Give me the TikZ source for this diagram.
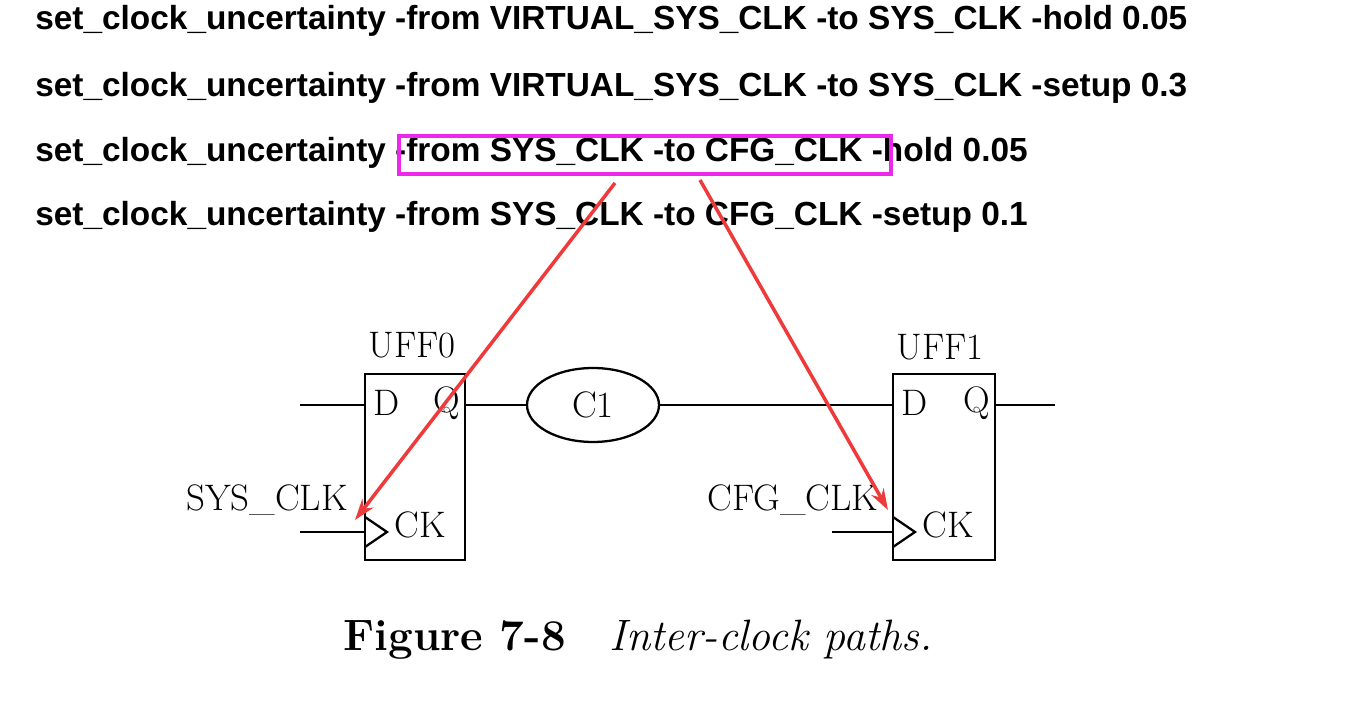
\documentclass[tikz,border=0pt]{standalone}
\usepackage{fontspec}
\newfontfamily\sans{Liberation Sans}
\usetikzlibrary{shapes.geometric,arrows.meta}
\begin{document}
\begin{tikzpicture}[x=0.02cm,y=-0.02cm,
  cmd/.style={anchor=base west,inner sep=0,font=\sans\bfseries\fontsize{19}{22}\selectfont},
  lbl/.style={inner sep=0,font=\fontsize{21}{24}\selectfont},
  wire/.style={line width=1.3pt},
  red/.style={draw={rgb,255:red,238;green,58;blue,58},line width=2pt,-{Stealth[length=12pt,width=8pt]}}]
\useasboundingbox (0,0) rectangle (1353,722);
\node[cmd] (l1) at (35,30) {set\_clock\_uncertainty -from VIRTUAL\_SYS\_CLK -to SYS\_CLK -hold 0.05};
\node[cmd] (l2) at (35,97) {set\_clock\_uncertainty -from VIRTUAL\_SYS\_CLK -to SYS\_CLK -setup 0.3};
\node[cmd] (l3) at (35,162) {set\_clock\_uncertainty -from SYS\_CLK -to CFG\_CLK -hold 0.05};
\node[cmd] (l4) at (35,226) {set\_clock\_uncertainty -from SYS\_CLK -to CFG\_CLK -setup 0.1};
\draw[draw={rgb,255:red,235;green,40;blue,235},line width=2pt] (399,136) rectangle (891,174);
% UFF0
\draw[wire] (365,374) rectangle (465,560);
\node[lbl] (u0) at (412,345) {UFF0};
\node[lbl] (d0) at (387,403) {D};
\node[lbl] (q0) at (447,403) {Q};
\node[lbl] (ck0) at (420,525) {CK};
\draw[wire] (365,517) -- (387,532) -- (365,547);
\coordinate (i0) at (300,405);
\coordinate (c0) at (300,532);
\draw[wire] (i0) -- (365,405);
\draw[wire] (c0) -- (365,532);
\node[lbl,anchor=base] (s0) at (267,511) {SYS\_CLK};
\node[draw,wire,ellipse,minimum width=2.64cm,minimum height=1.48cm,inner sep=0,lbl] (C1) at (593,405) {C1};
\draw[wire] (465,405) -- (C1.west);
\draw[wire] (C1.east) -- (893,405);
% UFF1
\draw[wire] (893,374) rectangle (995,560);
\node[lbl] (u1) at (940,347) {UFF1};
\node[lbl] (d1) at (915,403) {D};
\node[lbl] (q1) at (977,403) {Q};
\node[lbl] (ck1) at (948,525) {CK};
\draw[wire] (893,517) -- (915,532) -- (893,547);
\coordinate (o1) at (1055,405);
\coordinate (c1c) at (832,532);
\draw[wire] (995,405) -- (o1);
\draw[wire] (c1c) -- (893,532);
\node[lbl,anchor=base] (s1) at (793,511) {CFG\_CLK};
% arrows
\coordinate (a0) at (615,183);
\coordinate (a1) at (700,180);
\coordinate (t0) at (355,520);
\coordinate (t1) at (888,510);
\draw[red] (a0) -- (t0);
\draw[red] (a1) -- (t1);
\node[inner sep=0,font=\fontsize{25}{28}\selectfont] (cap) at (638,640) {\textbf{Figure 7-8}\quad\textit{Inter-clock paths.}};
\end{tikzpicture}
\end{document}
